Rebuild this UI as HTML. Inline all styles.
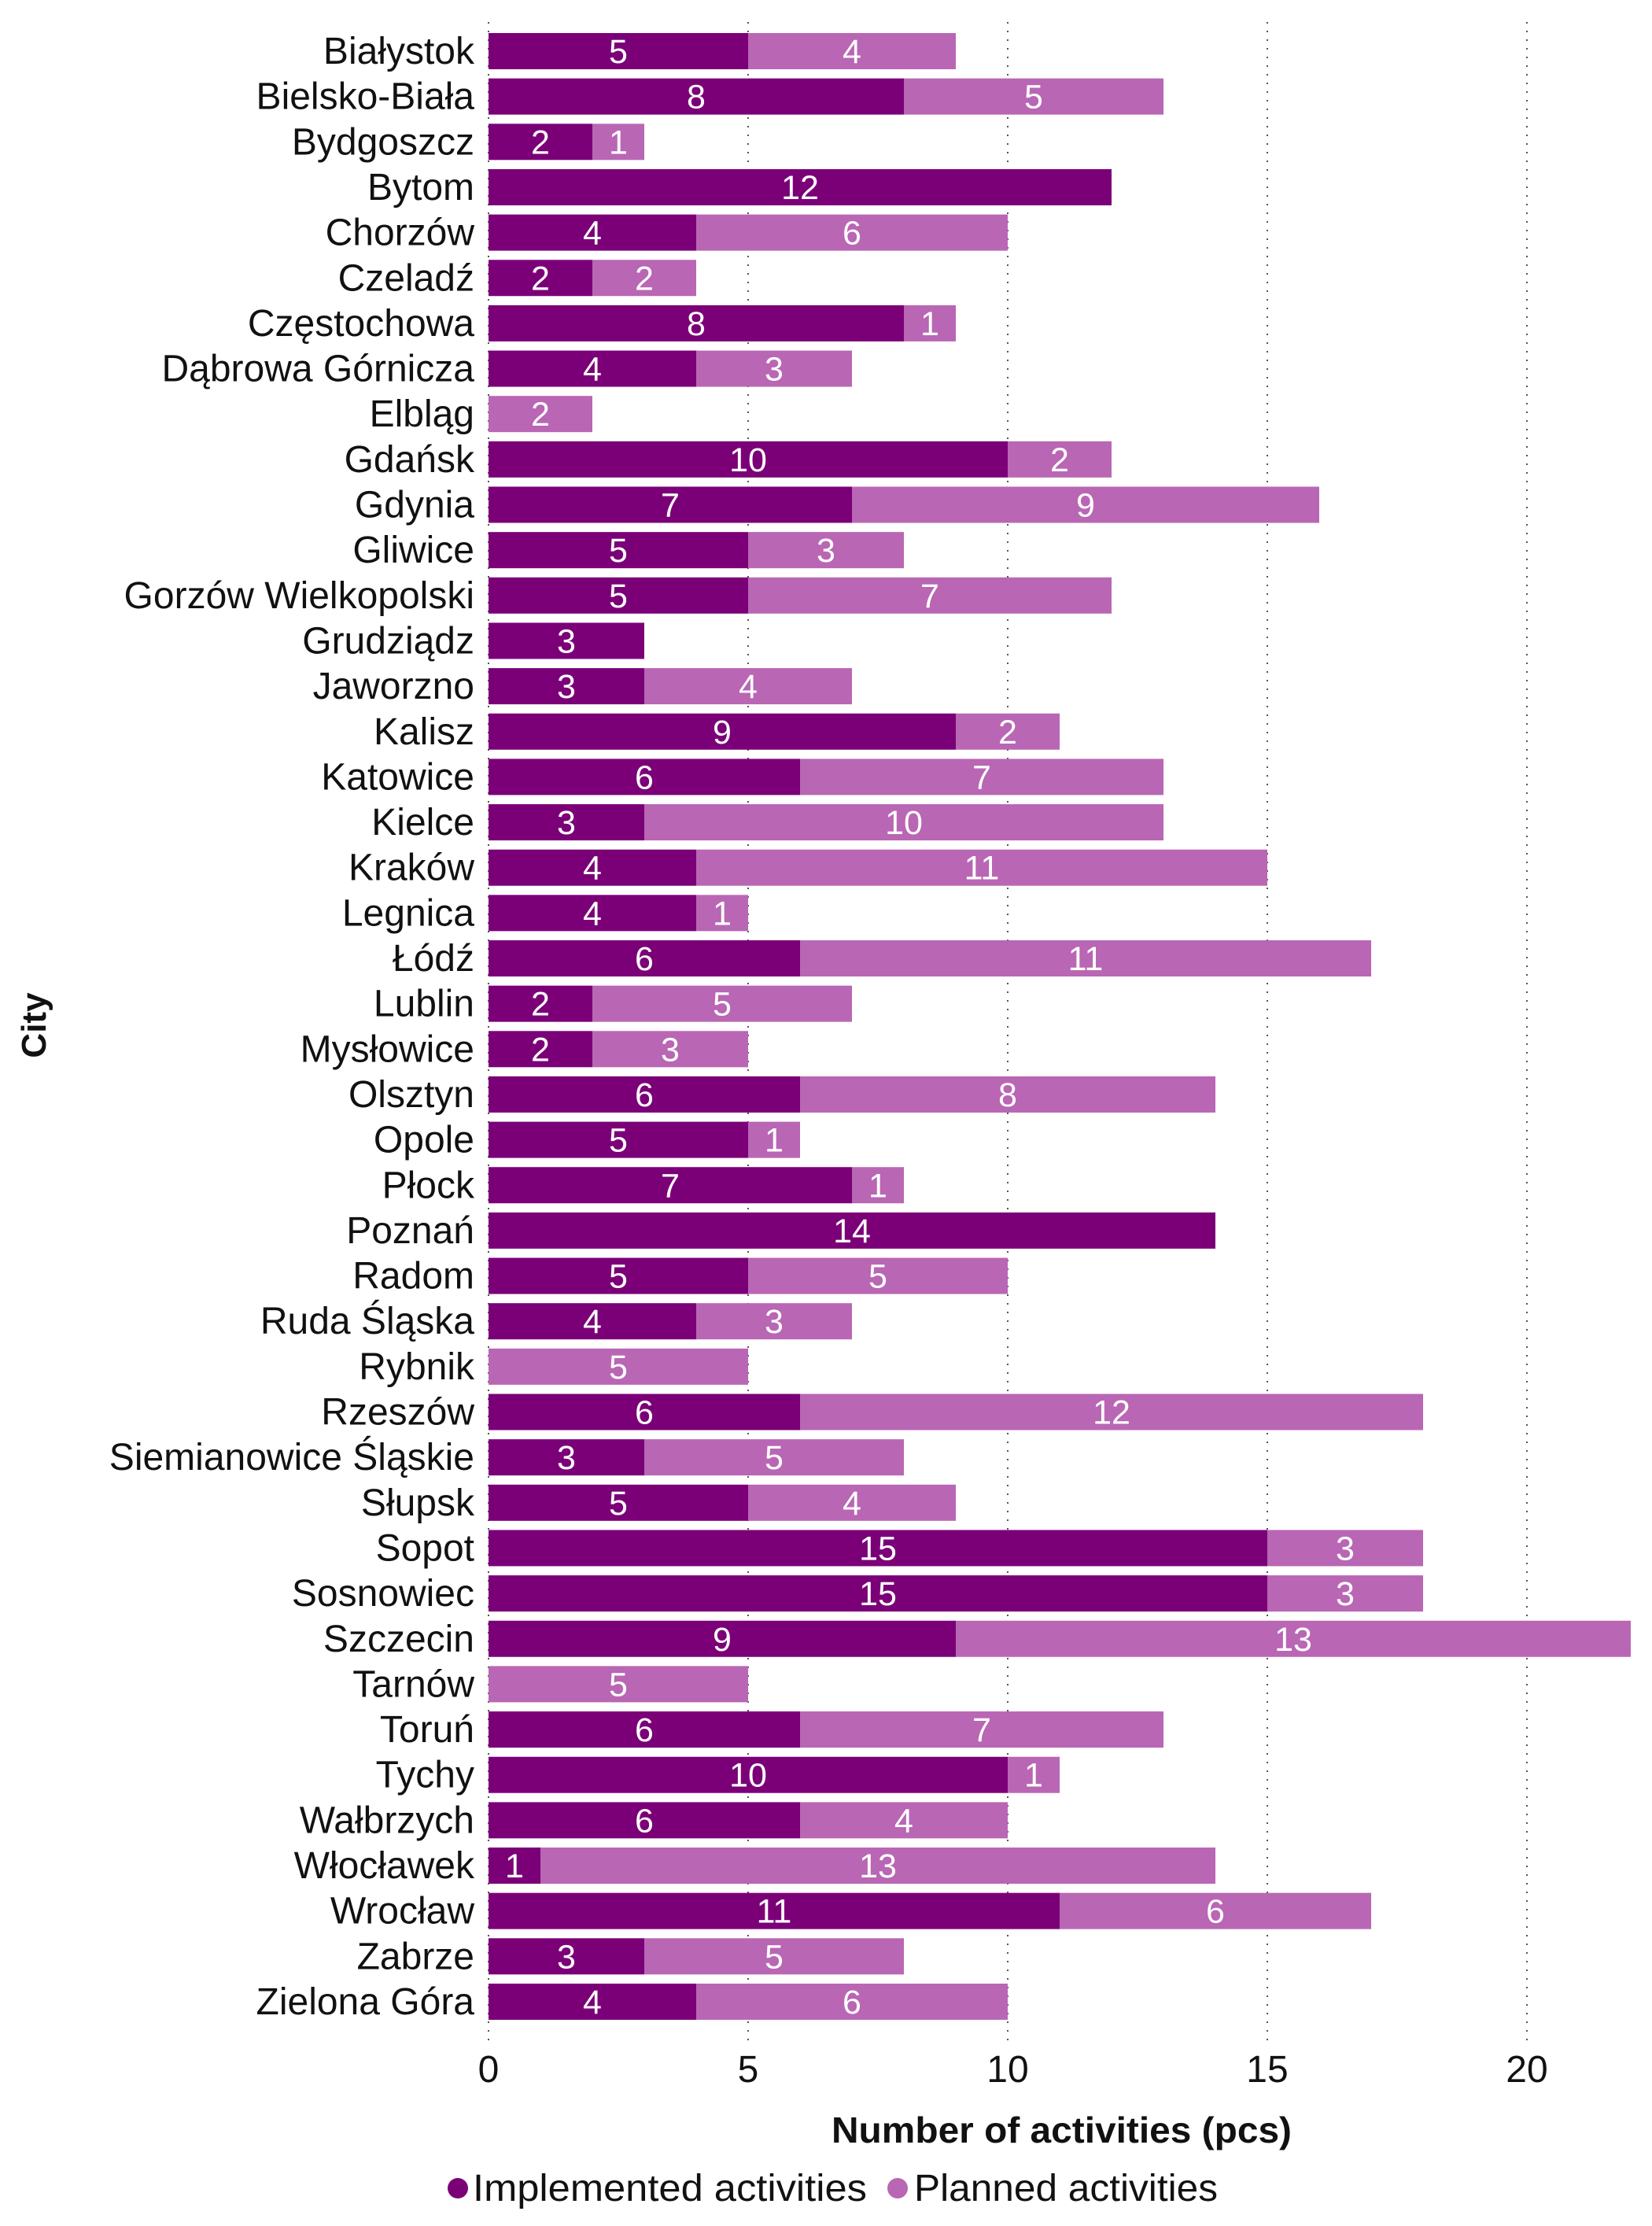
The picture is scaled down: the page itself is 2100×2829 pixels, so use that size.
<!DOCTYPE html>
<html><head><meta charset="utf-8">
<style>
html,body{margin:0;padding:0;background:#fff;}
svg{display:block;font-family:"Segoe UI","Liberation Sans","DejaVu Sans",sans-serif;}
</style></head>
<body>
<svg id="c" width="2100" height="2829" viewBox="0 0 2100 2829" xmlns="http://www.w3.org/2000/svg"></svg>
<script>
const d=[["Białystok",5,4],["Bielsko-Biała",8,5],["Bydgoszcz",2,1],["Bytom",12,0],["Chorzów",4,6],["Czeladź",2,2],["Częstochowa",8,1],["Dąbrowa Górnicza",4,3],["Elbląg",0,2],["Gdańsk",10,2],["Gdynia",7,9],["Gliwice",5,3],["Gorzów Wielkopolski",5,7],["Grudziądz",3,0],["Jaworzno",3,4],["Kalisz",9,2],["Katowice",6,7],["Kielce",3,10],["Kraków",4,11],["Legnica",4,1],["Łódź",6,11],["Lublin",2,5],["Mysłowice",2,3],["Olsztyn",6,8],["Opole",5,1],["Płock",7,1],["Poznań",14,0],["Radom",5,5],["Ruda Śląska",4,3],["Rybnik",0,5],["Rzeszów",6,12],["Siemianowice Śląskie",3,5],["Słupsk",5,4],["Sopot",15,3],["Sosnowiec",15,3],["Szczecin",9,13],["Tarnów",0,5],["Toruń",6,7],["Tychy",10,1],["Wałbrzych",6,4],["Włocławek",1,13],["Wrocław",11,6],["Zabrze",3,5],["Zielona Góra",4,6]];
const x0=621,u=66.0,y0=65,p=57.65,bh=46,D="#7b0078",L="#b966b4";
let s="";
for(let t=0;t<=20;t+=5){const x=x0+t*u;s+=`<line x1="${x}" y1="28" x2="${x}" y2="2600" stroke="#555" stroke-width="2" stroke-dasharray="2,9"/>`;
s+=`<text x="${x}" y="2646" font-size="48" text-anchor="middle" fill="#111">${t}</text>`;}
d.forEach((r,i)=>{const cy=y0+i*p;const y=cy-bh/2;
s+=`<text x="603" y="${cy+16}" font-size="48" text-anchor="end" fill="#111">${r[0]}</text>`;
if(r[1]>0){s+=`<rect x="${x0}" y="${y}" width="${r[1]*u}" height="${bh}" fill="${D}"/>`;
s+=`<text x="${x0+r[1]*u/2}" y="${cy+15}" font-size="43" text-anchor="middle" fill="#fff">${r[1]}</text>`;}
if(r[2]>0){const xs=x0+r[1]*u;s+=`<rect x="${xs}" y="${y}" width="${r[2]*u}" height="${bh}" fill="${L}"/>`;
s+=`<text x="${xs+r[2]*u/2}" y="${cy+15}" font-size="43" text-anchor="middle" fill="#fff">${r[2]}</text>`;}
});
s+=`<text x="1057" y="2723" font-size="46" font-weight="bold" textLength="585" lengthAdjust="spacingAndGlyphs" fill="#111">Number of activities (pcs)</text>`;
s+=`<text transform="translate(58,1303) rotate(-90)" font-size="44" font-weight="bold" text-anchor="middle" fill="#111">City</text>`;
s+=`<circle cx="582" cy="2781" r="13" fill="${D}"/><text x="601" y="2797" font-size="48" textLength="501" lengthAdjust="spacingAndGlyphs" fill="#111">Implemented activities</text>`;
s+=`<circle cx="1141" cy="2781" r="13" fill="${L}"/><text x="1162" y="2797" font-size="48" textLength="386" lengthAdjust="spacingAndGlyphs" fill="#111">Planned activities</text>`;
document.getElementById("c").innerHTML=s;
</script>
</body></html>
